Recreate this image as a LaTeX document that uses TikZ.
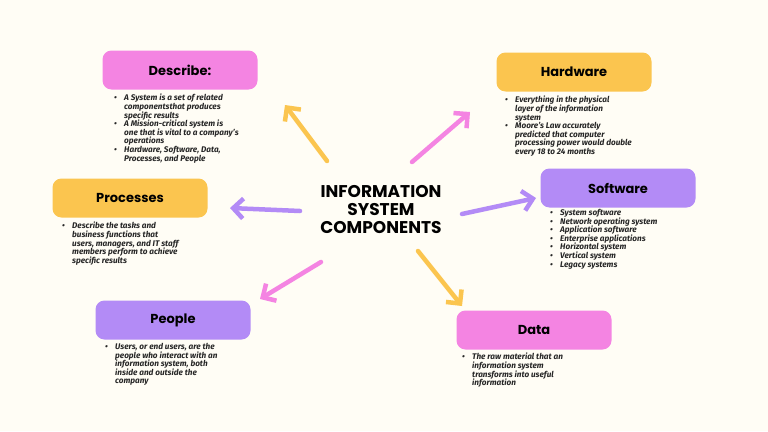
\documentclass[tikz,border=0pt]{standalone}
\usepackage{fontspec}
\setmainfont{Fira Sans}
\newfontfamily\titlefont{Poppins}[BoldFont={* Bold}]
\usetikzlibrary{arrows.meta}
\definecolor{bg}{HTML}{FFFDF5}
\definecolor{cpink}{HTML}{F484E2}
\definecolor{cyel}{HTML}{FBC54F}
\definecolor{cpur}{HTML}{B38BF6}
\newcommand{\bi}{\makebox[10pt][l]{\textbullet}}
\newcommand{\ci}{\hspace*{10pt}}
\tikzset{
 box/.style={rounded corners=9pt, minimum width=155pt, minimum height=39pt, inner sep=0pt, font=\titlefont\bfseries\fontsize{13}{15}\selectfont},
 lst/.style={anchor=north west, align=left, inner sep=0pt, text=black!85, font=\bfseries\itshape\fontsize{8.2}{8.6}\selectfont},
 arr/.style={line width=4.5pt, -{Straight Barb[length=10pt,width=20pt,line width=4.5pt]}, line cap=round}
}
\begin{document}
\begin{tikzpicture}[x=1pt,y=-1pt]
\fill[bg] (0,0) rectangle (768,431);
\useasboundingbox (0,0) rectangle (768,431);
\node[box, fill=cpink] (desc) at (180,70) {Describe:};
\node[box, fill=cyel] (hw) at (574,72) {Hardware};
\node[box, fill=cyel] (proc) at (130,198) {Processes};
\node[box, fill=cpur] (sw) at (618,188) {Software};
\node[box, fill=cpur] (ppl) at (173,320) {People};
\node[box, fill=cpink] (data) at (534,330) {Data};
\node[align=center, font=\titlefont\bfseries\fontsize{17}{18}\selectfont] (ctr) at (381,210) {INFORMATION\\SYSTEM\\COMPONENTS};
\node[lst] (l1) at (114,94) {\bi A System is a set of related\\\ci componentsthat produces\\\ci specific results\\\bi A Mission-critical system is\\\ci one that is vital to a company's\\\ci operations\\\bi Hardware, Software, Data,\\\ci Processes, and People};
\node[lst] (l2) at (505,96) {\bi Everything in the physical\\\ci layer of the information\\\ci system\\\bi Moore's Law accurately\\\ci predicted that computer\\\ci processing power would double\\\ci every 18 to 24 months};
\node[lst] (l3) at (62,222) {\bi Describe the tasks and\\\ci business functions that\\\ci users, managers, and IT staff\\\ci members perform to achieve\\\ci specific results};
\node[lst] (l4) at (550,209) {\bi System software\\\bi Network operating system\\\bi Application software\\\bi Enterprise applications\\\bi Horizontal system\\\bi Vertical system\\\bi Legacy systems};
\node[lst] (l5) at (105,343) {\bi Users, or end users, are the\\\ci people who interact with an\\\ci information system, both\\\ci inside and outside the\\\ci company};
\node[lst] (l6) at (462,353) {\bi The raw material that an\\\ci information system\\\ci transforms into useful\\\ci information};
\coordinate (a1) at (327,161); \coordinate (b1) at (285,105);
\coordinate (a2) at (412,162); \coordinate (b2) at (470,112);
\coordinate (a3) at (300,211); \coordinate (b3) at (230,208);
\coordinate (a4) at (462,214); \coordinate (b4) at (536,198);
\coordinate (a5) at (321,262); \coordinate (b5) at (260,299);
\coordinate (a6) at (418,251); \coordinate (b6) at (462,306);
\draw[arr, cyel] (a1) -- (b1);
\draw[arr, cpink] (a2) -- (b2);
\draw[arr, cpur] (a3) -- (b3);
\draw[arr, cpur] (a4) -- (b4);
\draw[arr, cpink] (a5) -- (b5);
\draw[arr, cyel] (a6) -- (b6);
\end{tikzpicture}
\end{document}
